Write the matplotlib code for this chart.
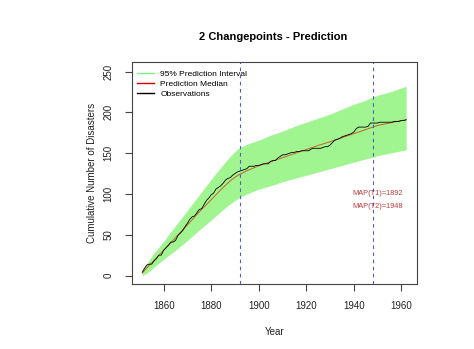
import numpy as np
import matplotlib
matplotlib.use('Agg')
import matplotlib.pyplot as plt

plt.rcParams['font.family'] = ['Liberation Sans', 'DejaVu Sans']

# yearly disaster counts 1851-1962
years = list(range(1851, 1963))
counts = [4, 5, 4, 1, 0, 4, 3, 4, 0, 6, 3, 3, 4, 0, 2, 6, 3, 3, 5, 4,
          5, 3, 1, 4, 4, 1, 5, 5, 3, 4, 2, 5, 2, 2, 3, 4, 2, 1, 3, 2,
          2, 1, 1, 1, 1, 3, 0, 0, 1, 0, 1, 1, 0, 0, 3, 1, 0, 3, 2, 2,
          0, 1, 1, 1, 0, 1, 0, 1, 0, 0, 0, 2, 1, 0, 0, 0, 1, 1, 0, 2,
          3, 3, 1, 1, 2, 1, 1, 1, 1, 2, 4, 2, 0, 0, 0, 1, 4, 0, 0, 0,
          1, 0, 0, 0, 0, 0, 1, 0, 0, 1, 0, 1]

# prediction band / median
pred_years = [1851, 1853, 1855, 1860, 1865, 1870, 1875, 1880, 1885, 1888, 1890, 1892,
              1895, 1900, 1905, 1910, 1915, 1920, 1925, 1930, 1935, 1940, 1945,
              1948, 1950, 1955, 1960, 1962]
pred_upper = [8, 15, 24, 42, 61, 80, 99, 118, 136, 146, 152, 157,
              161, 166, 172, 177, 183, 188, 193, 198, 204, 210, 215,
              219, 221, 225, 230, 232]
pred_lower = [0, 3, 8, 20, 31, 43, 56, 68, 81, 88, 92, 96,
              100, 106, 110, 115, 119, 123, 127, 131, 135, 139, 143,
              145, 147, 150, 153, 154]
pred_median = [3, 9.5, 15.5, 31, 46.5, 62, 78, 93, 108, 116, 120.5, 124,
               128.5, 134.5, 139.5, 144.5, 149.5, 154.5, 159.5, 164, 169, 174, 179,
               182, 184, 187, 190, 191]

changepoints = [1892, 1948]

observed = np.cumsum(counts)

fig = plt.figure(figsize=(4.74, 3.49), dpi=100)
ax = fig.add_axes([0.2778, 0.1862, 0.6013, 0.6361])

band_color = '#a0f590'
ax.fill_between(pred_years, pred_lower, pred_upper, color=band_color, linewidth=0)
ax.plot(pred_years, pred_median, color='#c84a10', linewidth=0.7, alpha=0.85)
ax.plot(years, observed, color='black', linewidth=0.6)
for cp in changepoints:
    ax.axvline(cp, color='#5060c0', linewidth=0.8, linestyle=(0, (3.2, 3.2)))

ax.text(1950, 100, 'MAP(T1)=%d' % changepoints[0], color='#c03a3a', fontsize=5.3,
        ha='center', va='center')
ax.text(1950, 85, 'MAP(T2)=%d' % changepoints[1], color='#c03a3a', fontsize=5.3,
        ha='center', va='center')

# legend (lines only, no frame)
h1, = ax.plot([], [], color='#7cf07c', linewidth=1)
h2, = ax.plot([], [], color='#d00000', linewidth=1)
h3, = ax.plot([], [], color='black', linewidth=1)
ax.legend([h1, h2, h3], ['95% Prediction Interval', 'Prediction Median', 'Observations'],
          loc='upper left', bbox_to_anchor=(0.018, 0.962), frameon=False, fontsize=6,
          handlelength=2.1, handletextpad=0.7, labelspacing=0.22, borderpad=0,
          borderaxespad=0)

ax.set_xlim(1846.56, 1966.44)
ax.set_ylim(-10.4, 261.8)
ax.set_xticks([1860, 1880, 1900, 1920, 1940, 1960])
ax.set_yticks([0, 50, 100, 150, 200, 250])
for lab in ax.get_yticklabels():
    lab.set_rotation(90)
    lab.set_va('center')
ax.tick_params(direction='out', length=5, width=0.8, color='#444444',
               labelsize=7, labelcolor='#222222')
ax.tick_params(axis='x', pad=7)
ax.tick_params(axis='y', pad=8)
for s in ax.spines.values():
    s.set_color('#444444')
    s.set_linewidth(0.8)

ax.set_xlabel('Year', fontsize=7, color='#222222')
ax.xaxis.set_label_coords(0.5, -0.215)
ax.xaxis.label.set_va('center')
ax.set_ylabel('Cumulative Number of Disasters', fontsize=7, color='#222222')
ax.yaxis.set_label_coords(-0.14, 0.5)
ax.yaxis.label.set_va('center')

fig.text(273.5 / 474, 1 - 37 / 349, '2 Changepoints - Prediction', fontsize=8,
         fontweight='bold', ha='center', va='center')

fig.savefig('out.png', dpi=100)
